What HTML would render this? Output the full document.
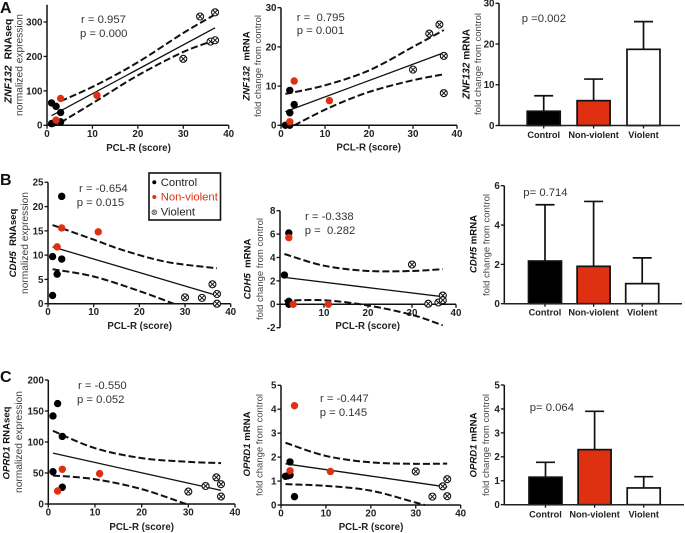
<!DOCTYPE html>
<html lang="en">
<head>
<meta charset="utf-8">
<title>Gene expression vs PCL-R score</title>
<style>
html,body{margin:0;padding:0;background:#fff;width:685px;height:533px;overflow:hidden}
svg{display:block;font-family:"Liberation Sans",Arial,sans-serif;filter:blur(0.35px)}
.stat{font-size:11.3px;fill:#333}
.xt{font-size:9.7px;font-weight:bold;fill:#222;text-anchor:middle}
.yb{font-size:9.6px;font-weight:bold;fill:#111;text-anchor:middle}
.yn{font-size:10.2px;fill:#444;text-anchor:middle}
.yf{font-size:9.5px;fill:#444;text-anchor:middle}
.letter{font-size:16px;font-weight:bold;fill:#111}
.leg{font-size:11.3px;fill:#222}
</style>
</head>
<body>
<svg id="fig" width="685" height="533" viewBox="0 0 685 533" xmlns="http://www.w3.org/2000/svg">
  <text class="letter" x="0" y="13">A</text>
  <text class="letter" x="0" y="185">B</text>
  <text class="letter" x="0" y="382">C</text>

  <text class="stat" x="81" y="23">r = 0.957</text>
  <text class="stat" x="80" y="37">p = 0.000</text>
  <text class="stat" x="296.7" y="21">r =&#160; 0.795</text>
  <text class="stat" x="296.7" y="34">p = 0.001</text>
  <text class="stat" x="521.7" y="22">p =0.002</text>
  <text class="stat" x="79" y="192">r = -0.654</text>
  <text class="stat" x="76.7" y="206">p = 0.015</text>
  <text class="stat" x="305" y="220">r = -0.338</text>
  <text class="stat" x="304.7" y="234">p =&#160; 0.282</text>
  <text class="stat" x="523.3" y="196">p= 0.714</text>
  <text class="stat" x="78" y="389">r = -0.550</text>
  <text class="stat" x="77" y="403">p = 0.052</text>
  <text class="stat" x="320" y="402">r = -0.447</text>
  <text class="stat" x="319.7" y="416">p = 0.145</text>
  <text class="stat" x="529.7" y="411">p= 0.064</text>

  <text class="xt" x="138.5" y="151">PCL-R (score)</text>
  <text class="xt" x="368.7" y="150.5">PCL-R (score)</text>
  <text class="xt" x="139.7" y="329">PCL-R (score)</text>
  <text class="xt" x="367.7" y="329">PCL-R (score)</text>
  <text class="xt" x="141.7" y="530">PCL-R (score)</text>
  <text class="xt" x="371" y="530">PCL-R (score)</text>

  <text class="yb" style="font-size:10.5px" transform="translate(11.5,61) rotate(-90)"><tspan font-style="italic">ZNF132</tspan>&#160; RNAseq</text>
  <text class="yn" transform="translate(22.7,65) rotate(-90)">normalized expression</text>
  <text class="yb" transform="translate(249.3,66) rotate(-90)"><tspan font-style="italic">ZNF132</tspan>&#160; mRNA</text>
  <text class="yf" transform="translate(261,66) rotate(-90)">fold change from control</text>
  <text class="yb" style="font-size:10.1px" transform="translate(469.3,64) rotate(-90)"><tspan font-style="italic">ZNF132</tspan> mRNA</text>
  <text class="yf" transform="translate(481,64) rotate(-90)">fold change from control</text>
  <text class="yb" transform="translate(16,243) rotate(-90)"><tspan font-style="italic">CDH5</tspan>&#160; RNAseq</text>
  <text class="yn" transform="translate(28,243) rotate(-90)">normalized expression</text>
  <text class="yb" transform="translate(250.7,269) rotate(-90)"><tspan font-style="italic">CDH5</tspan>&#160; mRNA</text>
  <text class="yf" transform="translate(263,269) rotate(-90)">fold change from control</text>
  <text class="yb" transform="translate(476.7,244) rotate(-90)"><tspan font-style="italic">CDH5</tspan> mRNA</text>
  <text class="yf" transform="translate(489.5,245) rotate(-90)">fold change from control</text>
  <text class="yb" transform="translate(9.5,443) rotate(-90)"><tspan font-style="italic">OPRD1</tspan> RNAseq</text>
  <text class="yn" transform="translate(22,442) rotate(-90)">normalized expression</text>
  <text class="yb" transform="translate(250,444) rotate(-90)"><tspan font-style="italic">OPRD1</tspan> mRNA</text>
  <text class="yf" transform="translate(262.3,445) rotate(-90)">fold change from control</text>
  <text class="yb" transform="translate(476.7,445) rotate(-90)"><tspan font-style="italic">OPRD1</tspan> mRNA</text>
  <text class="yf" transform="translate(489,445) rotate(-90)">fold change from control</text>

  <g>
    <rect x="149" y="173" width="71.5" height="47" fill="#fff" stroke="#111" stroke-width="1.6"/>
    <circle cx="154.3" cy="182.3" r="2" fill="#000"/>
    <text class="leg" x="160.7" y="186">Control</text>
    <circle cx="154.3" cy="197" r="2" fill="#e03012"/>
    <text class="leg" x="160.7" y="200.5" style="fill:#e03012">Non-violent</text>
    <circle cx="154.3" cy="212.3" r="2.3" fill="#fff" stroke="#555" stroke-width="0.9"/>
    <path d="M152.9 210.9l2.8 2.8M155.7 210.9l-2.8 2.8" stroke="#555" stroke-width="0.7"/>
    <text class="leg" x="160.7" y="215.3">Violent</text>
  </g>
</svg>
<script>
// ---- Shared tick labels and categories ----
const xTickLabels = [0, 10, 20, 30, 40];
const categories = ['Control', 'Non-violent', 'Violent'];

// ---- A1: ZNF132 RNAseq ----
const a1Control = [[1,65],[2,55],[3,37],[3,10],[1,5],[1.5,7]];
const a1NonViolent = [[3,78],[11,87],[2,15]];
const a1Violent = [[33.7,316],[37,328],[30,193],[36,243],[37,247]];
const a1Fit = [[1,28],[37,283]];
const a1Upper = [[3,70],[11,118],[20,183],[30,268],[37,322]];
const a1Lower = [[3,8],[11,72],[20,145],[30,213],[37,247]];
const a1YTicks = [0,100,200,300];

// ---- A2: ZNF132 mRNA ----
const a2Control = [[1,0],[2,0],[2,3.2],[3,5.3],[2,8.9]];
const a2NonViolent = [[3,11.3],[11,6.3],[2,0.9]];
const a2Violent = [[33.7,23.4],[36,25.7],[30,14.2],[37,17.7],[37,8.2]];
const a2Fit = [[1,3.5],[37,18.5]];
const a2Upper = [[1,8],[10,10.2],[20,14],[30,20],[37,24.3]];
const a2Lower = [[3,0],[11,4.5],[20,8.5],[30,11.5],[37,13]];
const a2YTicks = [0,10,20,30];

// ---- A3: ZNF132 bars ----
const a3Means = [3.5,6.1,18.7];
const a3ErrTops = [7.3,11.4,25.5];
const a3YTicks = [0,10,20,30];

// ---- B1: CDH5 RNAseq ----
const b1Control = [[3,22.1],[1,9.7],[3,9.2],[2,6.1],[1,1.7]];
const b1NonViolent = [[3,15.6],[11,14.8],[2,11.7]];
const b1Violent = [[30,1.3],[33.7,1.2],[36,4],[37,2],[37,0]];
const b1Fit = [[1,11.7],[37,1.7]];
const b1Upper = [[1,16.2],[10,13.2],[16.5,11],[26,8.6],[37,7.3]];
const b1Lower = [[1,7.1],[10,5.6],[20,2.6],[27.5,0]];
const b1YTicks = [0,5,10,15,20,25];

// ---- B2: CDH5 mRNA ----
const b2Control = [[2,6.1],[1,2.5],[2,0.25],[2,0.1],[2,0]];
const b2NonViolent = [[2,5.7],[3,0],[11,0]];
const b2Violent = [[30,3.4],[33.7,0.05],[36,0.15],[37,0.75],[37,0.35]];
const b2Fit = [[1,2.3],[37,0.65]];
const b2Upper = [[1,4.3],[10,3.3],[20,2.85],[30,2.85],[37,3]];
const b2Lower = [[1,0.3],[10,0.35],[20,-0.1],[30,-0.9],[37,-1.8]];
const b2YTicks = [-2,0,2,4,6,8];
const b2XTickLabels = [10, 20, 30, 40];

// ---- B3: CDH5 bars ----
const b3Means = [2.17,1.9,1.02];
const b3ErrTops = [5.03,5.2,2.33];
const b3YTicks = [0,2,4,6];

// ---- C1: OPRD1 RNAseq ----
const c1Control = [[2,162],[1,142],[3,109],[1,52],[3,27]];
const c1NonViolent = [[3,56],[11,49],[2,21]];
const c1Violent = [[30,20],[33.7,29],[36,43],[37,32],[37,12]];
const c1Fit = [[1,82],[37,22]];
const c1Upper = [[1,118],[10,90],[20,74],[30,68],[37,66]];
const c1Lower = [[1,46],[10,40],[20,24],[29.5,0]];
const c1YTicks = [0,50,100,150,200];

// ---- C2: OPRD1 mRNA ----
const c2Control = [[2,1.8],[1,1.2],[1.5,1.22],[2,1.25],[2,1.27],[3,0.35]];
const c2NonViolent = [[3,4.15],[11,1.4],[2,1.43]];
const c2Violent = [[30,1.4],[33.7,0.35],[36,0.78],[37,1.08],[37,0.37]];
const c2Fit = [[1,1.72],[37,0.75]];
const c2Upper = [[1,2.6],[10,2.05],[20,1.78],[30,1.72],[37,1.73]];
const c2Lower = [[1,0.87],[10,0.8],[20,0.6],[30,0.1],[32,0]];
const c2YTicks = [0,1,2,3,4,5];

// ---- C3: OPRD1 bars ----
const c3Means = [1.15,2.3,0.7];
const c3ErrTops = [1.77,3.9,1.17];
const c3YTicks = [0,1,2,3,4,5];

const NS = 'http://www.w3.org/2000/svg';
const svg = document.getElementById('fig');
const RED = '#e03012';
const INK = '#111';

function mk(tag, attrs, name, parent) {
  const el = document.createElementNS(NS, tag);
  for (const k in attrs) el.setAttribute(k, attrs[k]);
  
  
  parent.appendChild(el);
  return el;
}
function linear(v0, p0, v1, p1) {
  return v => p0 + (v - v0) * (p1 - p0) / (v1 - v0);
}
function smooth(pts) {
  let d = 'M' + pts[0][0] + ' ' + pts[0][1];
  for (let i = 0; i < pts.length - 1; i++) {
    const p0 = pts[Math.max(i - 1, 0)], p1 = pts[i], p2 = pts[i + 1], p3 = pts[Math.min(i + 2, pts.length - 1)];
    const c1x = p1[0] + (p2[0] - p0[0]) / 6, c1y = p1[1] + (p2[1] - p0[1]) / 6;
    const c2x = p2[0] - (p3[0] - p1[0]) / 6, c2y = p2[1] - (p3[1] - p1[1]) / 6;
    d += 'C' + c1x + ' ' + c1y + ' ' + c2x + ' ' + c2y + ' ' + p2[0] + ' ' + p2[1];
  }
  return d;
}
function yAxis(g, id, x, y, ticks, topValue, minValue) {
  mk('line', {x1:x, x2:x, y1:y(minValue), y2:y(topValue), stroke:INK, 'stroke-width':1.5}, id + '-y-axis', g);
  ticks.forEach(t => {
    mk('line', {x1:x - 3.5, x2:x, y1:y(t), y2:y(t), stroke:INK, 'stroke-width':1.3}, id + '-y-tick', g);
    const lab = mk('text', {x:x - 4.5, y:y(t) + 3.4, 'text-anchor':'end', 'font-size':9.8, 'font-weight':'bold', fill:'#222'}, id + '-y-tick-label', g);
    lab.textContent = t;
  });
}
function scatter(id, L, xLabels, control, nonViolent, violent, fit, upper, lower, yTicks) {
  const g = mk('g', {}, id + '-scatter-panel', svg);
  const x = linear(0, L.x0, 40, L.x1);
  const y = linear(L.v0, L.p0, L.v1, L.p1);
  yAxis(g, id, L.x0, y, yTicks, L.top, L.min);
  const ay = y(0);
  mk('line', {x1:L.x0, x2:L.x1, y1:ay, y2:ay, stroke:INK, 'stroke-width':1.5}, id + '-x-axis', g);
  xLabels.forEach(t => {
    mk('line', {x1:x(t), x2:x(t), y1:ay, y2:ay + 3.5, stroke:INK, 'stroke-width':1.3}, id + '-x-tick', g);
    const lab = mk('text', {x:x(t), y:ay + 11.5, 'text-anchor':'middle', 'font-size':9.8, 'font-weight':'bold', fill:'#222'}, id + '-x-tick-label', g);
    lab.textContent = t;
  });
  const px = a => a.map(p => [x(p[0]), y(p[1])]);
  mk('path', {d:smooth(px(fit)), fill:'none', stroke:INK, 'stroke-width':1.3}, id + '-fit-line', g);
  mk('path', {d:smooth(px(upper)), fill:'none', stroke:INK, 'stroke-width':2, 'stroke-dasharray':'7 3'}, id + '-ci-upper', g);
  mk('path', {d:smooth(px(lower)), fill:'none', stroke:INK, 'stroke-width':2, 'stroke-dasharray':'7 3'}, id + '-ci-lower', g);
  control.forEach(p => {
    mk('circle', {cx:x(p[0]), cy:y(p[1]), r:3.7, fill:'#000'}, id + '-point-control', g);
  });
  nonViolent.forEach(p => {
    mk('circle', {cx:x(p[0]), cy:y(p[1]), r:3.7, fill:RED}, id + '-point-non-violent', g);
  });
  violent.forEach(p => {
    const cx = x(p[0]), cy = y(p[1]);
    mk('circle', {cx:cx, cy:cy, r:3.5, fill:'#fff', stroke:INK, 'stroke-width':1.1}, id + '-point-violent', g);
    mk('path', {d:'M' + (cx - 2.2) + ' ' + (cy - 2.2) + 'l4.4 4.4M' + (cx + 2.2) + ' ' + (cy - 2.2) + 'l-4.4 4.4', stroke:INK, 'stroke-width':1}, id + '-point-violent-cross', g);
  });
}
function bars(id, L, means, errTops, yTicks) {
  const g = mk('g', {}, id + '-bar-panel', svg);
  const y = linear(0, L.p0, L.v1, L.p1);
  const cx = i => L.c0 + i * L.step;
  const fills = ['#000', RED, '#fff'];
  const barNames = ['control', 'non-violent', 'violent'];
  means.forEach((m, i) => {
    mk('line', {x1:cx(i), x2:cx(i), y1:y(errTops[i]), y2:y(m), stroke:INK, 'stroke-width':1.7}, id + '-error-bar-' + barNames[i], g);
    mk('line', {x1:cx(i) - 9.5, x2:cx(i) + 9.5, y1:y(errTops[i]), y2:y(errTops[i]), stroke:INK, 'stroke-width':1.7}, id + '-error-cap-' + barNames[i], g);
    mk('rect', {x:cx(i) - 16.5, y:y(m), width:33, height:y(0) - y(m), fill:fills[i], stroke:INK, 'stroke-width':1.7}, id + '-bar-' + barNames[i], g);
    mk('line', {x1:cx(i), x2:cx(i), y1:y(0), y2:y(0) + 3, stroke:INK, 'stroke-width':1.3}, id + '-x-tick', g);
    const lab = mk('text', {x:cx(i), y:L.labelY, 'text-anchor':'middle', 'font-size':9.2, 'font-weight':'bold', fill:'#222'}, id + '-category-label', g);
    lab.textContent = categories[i];
  });
  yAxis(g, id, L.x0, y, yTicks, L.v1, 0);
  mk('line', {x1:L.x0, x2:L.x1, y1:y(0), y2:y(0), stroke:'#222', 'stroke-width':1.5}, id + '-x-axis', g);
}

scatter('a1', {x0:47,x1:228.7,v0:0,p0:125.3,v1:300,p1:22,top:350,min:0}, xTickLabels, a1Control, a1NonViolent, a1Violent, a1Fit, a1Upper, a1Lower, a1YTicks);
scatter('a2', {x0:281,x1:457,v0:0,p0:125.3,v1:30,p1:7.7,top:30,min:0}, xTickLabels, a2Control, a2NonViolent, a2Violent, a2Fit, a2Upper, a2Lower, a2YTicks);
bars('a3', {x0:499,x1:680,p0:125.5,v1:30,p1:3.3,c0:543.7,step:49.9,labelY:138}, a3Means, a3ErrTops, a3YTicks);
scatter('b1', {x0:48,x1:230.7,v0:0,p0:303.7,v1:25,p1:182.3,top:25,min:0}, xTickLabels, b1Control, b1NonViolent, b1Violent, b1Fit, b1Upper, b1Lower, b1YTicks);
scatter('b2', {x0:280,x1:456,v0:-2,p0:327.7,v1:8,p1:210.7,top:8,min:-2}, b2XTickLabels, b2Control, b2NonViolent, b2Violent, b2Fit, b2Upper, b2Lower, b2YTicks);
bars('b3', {x0:504.3,x1:682,p0:303.7,v1:6,p1:185.7,c0:545,step:48.6,labelY:315.7}, b3Means, b3ErrTops, b3YTicks);
scatter('c1', {x0:48.3,x1:235,v0:0,p0:504,v1:200,p1:380,top:200,min:0}, xTickLabels, c1Control, c1NonViolent, c1Violent, c1Fit, c1Upper, c1Lower, c1YTicks);
scatter('c2', {x0:281,x1:460.7,v0:0,p0:505,v1:5,p1:385.3,top:5,min:0}, xTickLabels, c2Control, c2NonViolent, c2Violent, c2Fit, c2Upper, c2Lower, c2YTicks);
bars('c3', {x0:504.3,x1:684,p0:504.7,v1:5,p1:385,c0:545.5,step:49.1,labelY:517.3}, c3Means, c3ErrTops, c3YTicks);
</script>
</body>
</html>
